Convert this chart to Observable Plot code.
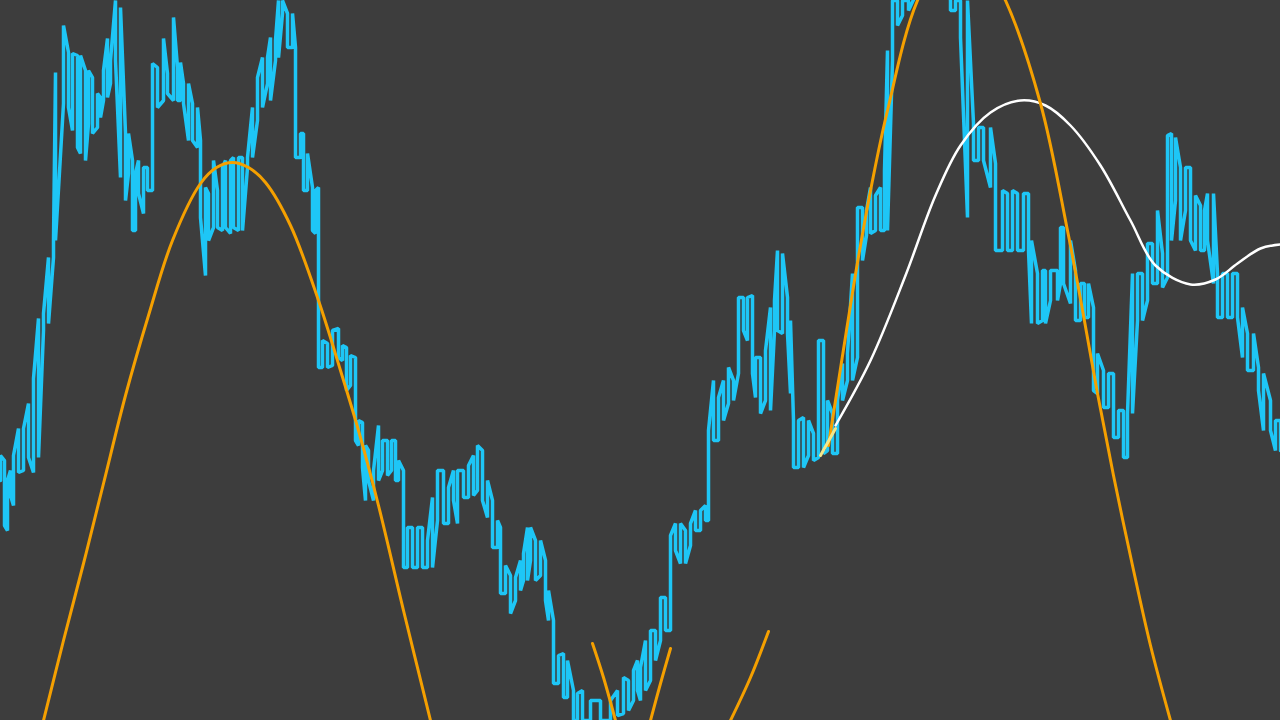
<!DOCTYPE html>
<html>
<head>
<meta charset="utf-8">
<script src="https://cdn.jsdelivr.net/npm/d3@7"></script>
<script src="https://cdn.jsdelivr.net/npm/@observablehq/plot@0.6"></script>
<style>
  html, body { margin: 0; padding: 0; background: #3d3d3d; overflow: hidden; }
  #chart svg { display: block; }
</style>
</head>
<body>
<div id="chart"></div>
<script>
// Price bars: bar position, upper level, lower level (chart units measured down from top)
const barPos = [0,4,7,10,13,18,23,28,33,38,43,48,53,55,63,68,72,77,80,85,88,92,97,100,103,107,110,115,120,125,128,132,135,138,143,147,152,157,163,167,173,177,180,183,188,192,197,200,205,208,213,217,222,225,230,233,238,242,247,252,257,262,267,270,275,278,282,287,292,295,300,303,307,312,315,318,322,327,332,338,342,346,350,355,358,362,365,368,373,378,382,387,391,395,398,403,407,412,417,422,427,432,437,443,448,453,457,463,468,473,477,482,487,492,497,500,505,510,515,520,523,527,530,535,540,545,548,553,558,563,567,573,577,582,590,600,610,617,623,628,633,637,640,645,650,655,660,665,670,675,680,685,690,695,700,705,708,713,718,723,728,733,738,743,747,752,755,760,765,770,774,777,782,787,790,793,798,803,808,813,818,823,827,832,837,842,847,852,857,862,866,870,875,880,884,887,892,897,902,908,915,930,945,950,955,960,967,973,978,983,990,995,1002,1007,1012,1017,1023,1028,1031,1037,1042,1045,1050,1057,1060,1063,1070,1075,1080,1084,1088,1093,1097,1103,1108,1113,1118,1123,1127,1132,1137,1142,1147,1152,1157,1162,1167,1171,1175,1180,1185,1190,1195,1200,1204,1207,1213,1217,1222,1227,1232,1237,1242,1247,1253,1258,1263,1270,1275,1280];
const barUpper = [455,460,480,470,455,428,428,403,378,318,313,257,240,72,25,52,53,55,55,70,70,77,93,97,70,38,60,0,7,133,133,160,173,160,167,167,63,67,38,73,17,67,62,83,83,103,107,140,187,193,160,190,167,160,160,157,157,157,157,107,77,57,57,37,40,0,0,13,13,47,133,133,153,187,190,187,340,343,330,328,345,347,355,357,420,422,445,450,470,425,440,440,440,440,460,470,527,527,527,527,540,497,470,470,487,470,470,470,465,455,445,450,480,500,520,527,565,575,577,560,553,527,527,540,540,560,590,620,655,653,660,690,693,690,700,700,700,690,677,680,670,660,667,640,630,630,597,597,535,523,523,530,523,510,510,505,430,380,397,380,367,380,297,297,297,295,357,357,350,307,300,250,253,297,320,420,420,417,420,433,340,340,400,413,400,363,353,273,207,207,210,187,195,187,170,50,0,0,0,0,-40,-60,-30,0,0,0,0,123,127,127,127,163,190,193,190,193,193,193,240,273,270,270,270,270,227,227,240,270,283,283,283,307,353,370,373,373,410,410,413,273,273,273,243,243,210,253,135,133,137,167,167,167,195,205,210,193,193,273,273,273,273,273,307,333,333,367,373,400,420,420];
const barLower = [480,525,530,495,505,472,470,457,472,457,330,323,257,240,103,107,130,147,153,160,123,133,127,117,100,97,83,60,177,200,173,230,230,193,213,190,190,107,100,93,100,100,100,103,140,140,147,217,275,240,227,227,230,227,233,227,230,230,167,157,120,107,83,100,60,57,13,47,47,157,157,190,190,230,233,367,367,367,365,357,360,390,385,440,445,467,500,480,500,480,470,475,470,480,480,567,567,567,567,567,567,567,520,523,523,500,523,497,497,495,490,500,517,547,547,593,593,613,600,590,580,580,560,580,575,600,620,683,683,697,697,720,720,720,720,720,720,715,713,710,700,690,700,690,680,660,640,630,630,550,563,563,545,530,530,520,520,440,440,420,403,400,373,330,340,373,397,413,400,410,330,330,333,333,393,467,467,467,455,460,457,453,450,453,453,400,380,380,357,260,235,233,230,230,230,230,60,25,15,10,-5,-10,-5,10,10,37,217,160,160,160,187,250,250,250,250,250,250,250,323,323,320,323,300,300,283,283,303,320,320,317,317,390,393,407,407,437,437,457,457,413,320,320,300,283,283,287,277,240,200,240,210,240,250,250,250,240,283,317,317,317,317,317,357,370,370,390,430,430,450,450];

// Orange cycle curves (segment id, position, level)
const orangeSeg = [1,1,1,1,1,1,1,1,1,1,1,1,1,1,1,1,1,1,1, 2,2,2, 3,3,3, 4,4,4, 5,5,5,5,5,5,5,5,5,5,5,5,5,5,5,5,5,5];
const orangePos = [43,63,83,103,125,148,172,200,216,232,248,265,290,318,340,358,378,403,430, 592,603,615, 650,660,670, 730,750,768, 828,835,846,857,872,887,917,961,1005,1040,1067,1083,1097,1113,1132,1150,1170];
const orangeLvl = [720,640,563,483,395,315,240,183,167,162,167,182,225,300,370,430,505,610,720, 643,677,720, 720,683,648, 720,677,631, 445,400,330,262,180,110,0,-75,0,103,230,315,393,475,565,645,720];

// White smoothing curve
const whitePos = [835,870,905,935,960,990,1020,1045,1070,1100,1130,1155,1190,1215,1237,1260,1280];
const whiteLvl = [425,360,275,195,145,112,100,105,125,165,220,265,284,279,263,248,244];

// Pale start segment
const paleStart = [{x: 820, y: 455}, {x: 835, y: 428}];

// Build zigzag vertex table from bars
const cyanPts = [];
barPos.forEach((x, i) => {
  if (i % 2 === 0) {
    cyanPts.push({x, y: barLower[i]});
    cyanPts.push({x, y: barUpper[i]});
  } else {
    cyanPts.push({x, y: barUpper[i]});
    cyanPts.push({x, y: barLower[i]});
  }
});
const orangeData = orangePos.map((x, i) => ({x, y: orangeLvl[i], seg: orangeSeg[i]}));
const whiteData = whitePos.map((x, i) => ({x, y: whiteLvl[i]}));

const chart = Plot.plot({
  width: 1280,
  height: 720,
  margin: 0,
  x: {domain: [0, 1280], axis: null},
  y: {domain: [0, 720], reverse: true, axis: null},
  style: {background: "#3d3d3d"},
  marks: [
    Plot.line(cyanPts, {x: "x", y: "y", stroke: "#1ec6f6", strokeWidth: 3.5, strokeLinejoin: "miter", clip: true}),
    Plot.line(whiteData, {x: "x", y: "y", stroke: "#ffffff", strokeWidth: 2.5, curve: "catmull-rom", clip: true}),
    Plot.line(orangeData, {x: "x", y: "y", z: "seg", stroke: "#f5a000", strokeWidth: 3, curve: "catmull-rom", clip: true}),
    Plot.line(paleStart, {x: "x", y: "y", stroke: "#f3e68a", strokeWidth: 3, clip: true})
  ]
});
document.getElementById("chart").appendChild(chart);
</script>
</body>
</html>
